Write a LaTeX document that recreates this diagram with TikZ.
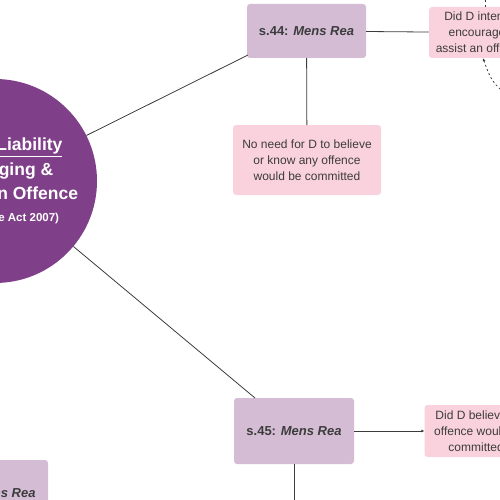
\documentclass[tikz,border=0pt]{standalone}
\usepackage{fontspec}
\setmainfont{Liberation Sans}
\usetikzlibrary{arrows.meta}
\definecolor{libpurple}{RGB}{127,63,137}
\definecolor{mrfill}{RGB}{212,189,212}
\definecolor{qfill}{RGB}{250,210,221}
\definecolor{ink}{RGB}{60,60,60}
\tikzset{
  mrbox/.style={fill=mrfill, rounded corners=3pt, minimum width=120pt, minimum height=54pt, text=ink, font=\fontsize{13}{15}\selectfont\bfseries},
  qbox/.style={fill=qfill, rounded corners=3pt, align=center, text=ink, font=\fontsize{12}{16}\selectfont},
  link/.style={draw=ink, line width=0.8pt},
  tip/.style={-{Latex[length=3pt,width=3pt]}}
}
\begin{document}
\begin{tikzpicture}[x=1pt,y=-1pt]
\useasboundingbox (0,0) rectangle (500,500);
\node[circle, fill=libpurple, minimum size=204pt, inner sep=0pt] (lib) at (-5,181) {};
\node[text=white, align=center, font=\fontsize{17.5}{24.5}\selectfont\bfseries] (libtxt) at (-9,181)
  {\underline{Inchoate Liability}\\Encouraging \&\\Assisting an Offence\\[-3pt]{\fontsize{11.5}{14}\selectfont(Serious Crime Act 2007)}};
\node[mrbox, minimum width=119pt] (s44) at (306.5,31) {s.44: \textit{Mens Rea}};
\node[qbox, minimum width=110pt, minimum height=51pt] (did44) at (484,32.5) {Did D intend to\\encourage or\\assist an offence?};
\node[qbox, minimum width=148pt, minimum height=70pt] (noneed) at (307,160) {No need for D to believe\\or know any offence\\would be committed};
\node[mrbox, minimum height=66pt] (s45) at (294,431) {s.45: \textit{Mens Rea}};
\node[qbox, minimum width=110pt, minimum height=52pt] (did45) at (479.5,431) {Did D believe an\\offence would be\\committed?};
\node[mrbox, minimum height=66pt] (s46) at (-12,493) {s.46: \textit{Mens Rea}};
\coordinate (s44in) at (248,55);
\coordinate (s45in) at (255,398);
\coordinate (s45out) at (294,510);
\coordinate (loopa) at (485,-20);
\coordinate (loopb) at (504,92);
\draw[link] (lib) -- (s44in);
\draw[link] (lib) -- (s45in);
\draw[link] (s44) -- (did44);
\draw[link] (s44) -- (noneed);
\draw[link, tip] (s45) -- (did45);
\draw[link] (s45) -- (s45out);
\draw[link, dash pattern=on 2pt off 2.5pt] (did44.north -| loopa) -- (loopa);
\draw[link, dash pattern=on 2pt off 2.5pt, tip] (loopb) to[out=145, in=-70] (did44.south -| 483,0);
\end{tikzpicture}
\end{document}
